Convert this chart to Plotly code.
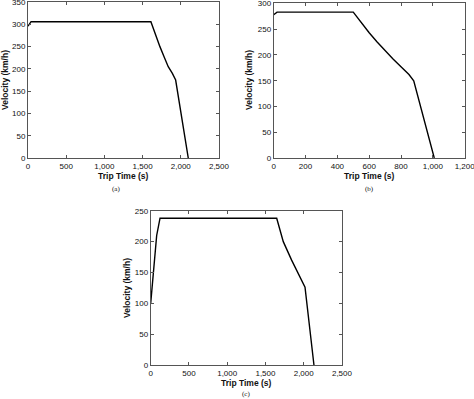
import plotly.graph_objects as go

# Panel (a)
a_time = [0, 40, 1609, 1660, 1727, 1780, 1836, 1890, 1933, 2098]
a_vel = [296, 306, 306, 280, 250, 228, 205, 190, 175, 0]
# Panel (b)
b_time = [0, 21, 500, 550, 600, 650, 700, 750, 800, 850, 880, 1009]
b_vel = [278, 283, 283, 262, 243, 225, 208, 192, 177, 162, 150, 0]
# Panel (c)
c_time = [0, 78, 122, 1647, 1733, 1842, 2017, 2134]
c_vel = [100, 210, 238, 238, 200, 170, 126, 0]

W, H = 474, 399
def px(x): return x / W
def py(y): return 1 - y / H

fig = go.Figure()
line = dict(color="black", width=1.4)
fig.add_trace(go.Scatter(x=a_time, y=a_vel, mode="lines", line=line, xaxis="x", yaxis="y"))
fig.add_trace(go.Scatter(x=b_time, y=b_vel, mode="lines", line=line, xaxis="x2", yaxis="y2"))
fig.add_trace(go.Scatter(x=c_time, y=c_vel, mode="lines", line=line, xaxis="x3", yaxis="y3"))

tickfont = dict(family="Liberation Sans, Arial", size=8, color="#111")
common = dict(showgrid=False, zeroline=False, showline=True, linecolor="#555", linewidth=1,
              mirror="ticks", ticks="inside", ticklen=3, tickcolor="#555", tickfont=tickfont,
              automargin=False, ticklabeloverflow="allow")

fig.update_layout(
    width=W, height=H, margin=dict(l=0, r=0, t=0, b=0, autoexpand=False),
    paper_bgcolor="white", plot_bgcolor="white", showlegend=False,
    xaxis=dict(domain=[px(28), px(219)], range=[0, 2500.5], dtick=500, tickformat=",d", anchor="y", **common),
    yaxis=dict(domain=[py(158), py(2)], range=[0, 350.2], dtick=50, anchor="x", **common),
    xaxis2=dict(domain=[px(273.7), px(464.7)], range=[0, 1200.3], dtick=200, tickformat=",d", anchor="y2", **common),
    yaxis2=dict(domain=[py(158), py(3.3)], range=[0, 300.2], dtick=50, anchor="x2", **common),
    xaxis3=dict(domain=[px(150.7), px(342)], range=[0, 2500.5], dtick=500, tickformat=",d", anchor="y3", **common),
    yaxis3=dict(domain=[py(365), py(210.7)], range=[0, 250.2], dtick=50, anchor="x3", **common),
)

titlefont = dict(family="Liberation Sans, Arial", size=8.5, color="#111")
capfont = dict(family="Liberation Serif, Times New Roman", size=7, color="#111")
ann = []
# x-axis titles
for cx, cy in [((28 + 219) / 2, 175.5), ((273.7 + 464.7) / 2, 175.5), ((150.7 + 342) / 2, 383)]:
    ann.append(dict(x=px(cx), y=py(cy), xref="paper", yref="paper", text="<b>Trip Time (s)</b>",
                    showarrow=False, font=titlefont, xanchor="center", yanchor="middle"))
# y-axis titles
for cx, cy in [(5, 80), (249, 80), (127, 288)]:
    ann.append(dict(x=px(cx), y=py(cy), xref="paper", yref="paper", text="<b>Velocity (km/h)</b>",
                    showarrow=False, font=titlefont, textangle=-90, xanchor="center", yanchor="middle"))
# captions
for txt, cx, cy in [("(a)", 116, 189), ("(b)", 369, 189), ("(c)", 246, 393.5)]:
    ann.append(dict(x=px(cx), y=py(cy), xref="paper", yref="paper", text=txt,
                    showarrow=False, font=capfont, xanchor="center", yanchor="middle"))
fig.update_layout(annotations=ann)

fig.write_html("out.html", config={"displayModeBar": False},
               post_script="document.body.style.margin='0';document.body.style.overflow='hidden';")
